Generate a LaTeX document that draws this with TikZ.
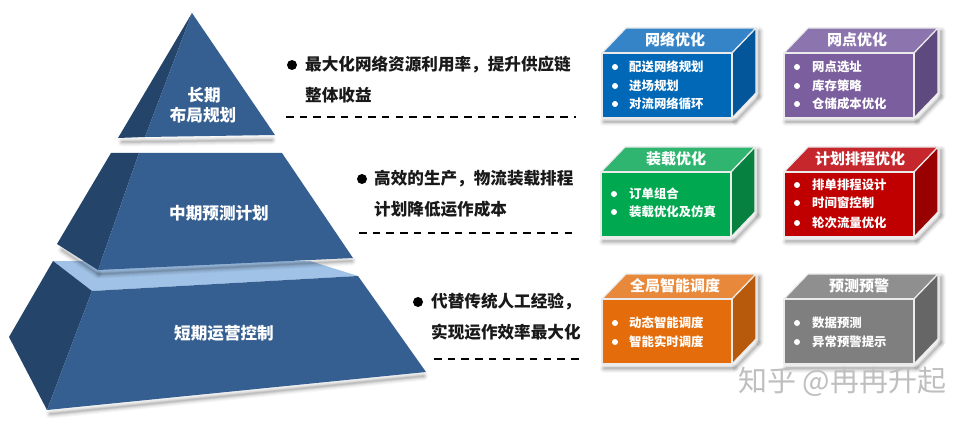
\documentclass[tikz,border=0pt]{standalone}
\usepackage{fontspec}
\setmainfont{Noto Sans CJK SC}
\newfontfamily\cjk{Noto Sans CJK SC}
\usetikzlibrary{calc}
\definecolor{pyrfront}{HTML}{365F91}
\definecolor{pyrside}{HTML}{254469}
\definecolor{pyrband}{HTML}{A0C2E6}
\definecolor{blueT}{HTML}{3584C8}\definecolor{blueF}{HTML}{0068B7}\definecolor{blueS}{HTML}{04569B}
\definecolor{purT}{HTML}{8C74AE}\definecolor{purF}{HTML}{7B5E9E}\definecolor{purS}{HTML}{5F4A80}
\definecolor{grnT}{HTML}{2FB56F}\definecolor{grnF}{HTML}{00A84F}\definecolor{grnS}{HTML}{078140}
\definecolor{redT}{HTML}{C5272D}\definecolor{redF}{HTML}{C00000}\definecolor{redS}{HTML}{990000}
\definecolor{orgT}{HTML}{E8883A}\definecolor{orgF}{HTML}{E46C0A}\definecolor{orgS}{HTML}{B85A0C}
\definecolor{gryT}{HTML}{8F8F8F}\definecolor{gryF}{HTML}{7F7F7F}\definecolor{gryS}{HTML}{666666}
\tikzset{
 txt/.style={inner sep=0pt,font=\cjk\bfseries\fontsize{16.6}{20}\selectfont,text=#1},
 txt/.default=black!90,
 boxhead/.style={inner sep=0pt,text=white,font=\cjk\bfseries\fontsize{15}{18}\selectfont},
 boxitem/.style={inner sep=0pt,anchor=west,text=white,font=\cjk\bfseries\fontsize{12.4}{15}\selectfont},
 boxdot/.style={circle,fill=white,inner sep=0pt,minimum size=6pt},
 bigdot/.style={circle,fill=black,inner sep=0pt,minimum size=10pt},
 rule/.style={black,line width=1.2pt,dash pattern=on 7.5pt off 6.2pt},
 edge/.style={draw=white!92!black,line width=1.2pt,line join=round},
 wm/.style={inner sep=0pt,text=black!25,font=\cjk\fontsize{29}{34}\selectfont}
}
% soft shadow along a segment
\newcommand{\softline}[2]{%
 \foreach \w/\o in {9/.03,7/.04,5/.05,3/.07,1.5/.08}{\draw[black,opacity=\o,line width=\w pt,line cap=round] #1 -- #2;}}
% cube: x of front left, y of front top, height, width, colour prefix
\newcommand{\cubebox}[5]{%
 \softline{(#1+2,#2+#3+4)}{(#1+#4+2,#2+#3+4)}
 \softline{(#1+#4+4,#2+#3+3)}{(#1+#4+26,#2+#3-20)}
 \softline{(#1+#4+27,#2-22)}{(#1+#4+27,#2+#3-22)}
 \filldraw[fill=#5T,edge] (#1,#2) -- (#1+#4,#2) -- (#1+#4+24,#2-25) -- (#1+24,#2-25) -- cycle;
 \filldraw[fill=#5S,edge] (#1+#4,#2) -- (#1+#4+24,#2-25) -- (#1+#4+24,#2+#3-25) -- (#1+#4,#2+#3) -- cycle;
 \filldraw[fill=#5F,edge] (#1,#2) rectangle (#1+#4,#2+#3);
}
\begin{document}
\begin{tikzpicture}[x=1pt,y=-1pt]
\useasboundingbox (0,0) rectangle (973,422);
\fill[white] (0,0) rectangle (973,422);
% pyramid shadows
\softline{(122,142)}{(272,140)}
\softline{(50,414)}{(424,376)}
% top tier
\fill[pyrside] (192,13) -- (145,137) -- (118,138) -- cycle;
\fill[pyrfront] (192,13) -- (275,135) -- (145,137) -- cycle;
% bottom tier
\fill[pyrband] (53,261) -- (310,261) -- (358,276) -- (92,291) -- cycle;
\fill[pyrside] (53,261) -- (92,291) -- (47,410) -- (9,337) -- cycle;
\fill[pyrfront] (92,291) -- (358,276) -- (426,372) -- (47,410) -- cycle;
% middle tier
\softline{(62,250)}{(98,274)}
\softline{(100,274)}{(352,261)}
\fill[pyrside] (111,153) -- (139,153) -- (98,270) -- (57,244) -- cycle;
\fill[pyrfront] (139,153) -- (282,153) -- (353,258) -- (98,270) -- cycle;
\node[txt=white] (t1a) at (204,95) {长期};
\node[txt=white] (t1b) at (203,115) {布局规划};
\node[txt=white] (t2) at (219,213) {中期预测计划};
\node[txt=white] (t3) at (224,333) {短期运营控制};
% statements
\node[bigdot] (d1) at (292,65) {};
\node[txt,anchor=west] (s1a) at (305,65) {最大化网络资源利用率，提升供应链};
\node[txt,anchor=west] (s1b) at (305,95) {整体收益};
\draw[rule] (286,117) -- (576,117);
\node[bigdot] (d2) at (362,179) {};
\node[txt,anchor=west] (s2a) at (374,179) {高效的生产，物流装载排程};
\node[txt,anchor=west] (s2b) at (374,209) {计划降低运作成本};
\draw[rule] (359,233) -- (578,233);
\node[bigdot] (d3) at (418,302) {};
\node[txt,anchor=west] (s3a) at (431,302) {代替传统人工经验，};
\node[txt,anchor=west] (s3b) at (431,332) {实现运作效率最大化};
\draw[rule] (434,359) -- (582,359);
% cubes
\cubebox{602}{53}{65}{130}{blue}
\cubebox{784}{53}{65}{130}{pur}
\cubebox{601}{172}{65}{130}{grn}
\cubebox{784}{172}{65}{130}{red}
\cubebox{602}{299}{65}{130}{org}
\cubebox{784}{299}{65}{130}{gry}
% cube headings
\node[boxhead] (h1) at (675,40) {网络优化};
\node[boxhead] (h2) at (857,40) {网点优化};
\node[boxhead] (h3) at (676,159) {装载优化};
\node[boxhead] (h4) at (860,159) {计划排程优化};
\node[boxhead] (h5) at (675,286) {全局智能调度};
\node[boxhead] (h6) at (859,286) {预测预警};
% cube items
\foreach \n/\bx/\tx/\y/\t in {
 a/615/629/67/配送网络规划, b/615/629/86/进场规划, c/615/629/104/对流网络循环,
 d/797/812/67/网点选址, e/797/812/86/库存策略, f/797/812/104/仓储成本优化,
 g/614/629/194/订单组合, h/614/629/212/装载优化及仿真,
 i/797/812/185/排单排程设计, j/797/812/203/时间窗控制, k/797/812/223/轮次流量优化,
 l/615/629/323/动态智能调度, m/615/629/342/智能实时调度,
 n/797/812/323/数据预测, o/797/812/342/异常预警提示}{
 \node[boxdot] (dot\n) at (\bx,\y) {};
 \node[boxitem] (item\n) at (\tx,\y) {\t};
}
% watermark
\node[wm,anchor=west] (wm1) at (738,382) {知乎 @冉冉升起};
\end{tikzpicture}
\end{document}
